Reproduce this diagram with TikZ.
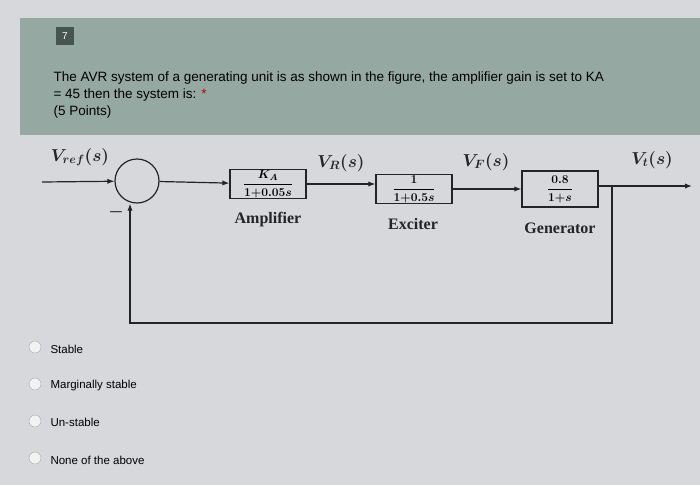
\documentclass[tikz,border=0pt]{standalone}
\usepackage{fontspec}
\setmainfont{Liberation Serif}
\newfontfamily\uisans{Liberation Sans}
\usetikzlibrary{arrows.meta}
\definecolor{bg}{RGB}{214,216,220}
\definecolor{band}{RGB}{150,168,162}
\definecolor{numbox}{RGB}{70,85,80}
\definecolor{ink}{RGB}{35,35,40}
\tikzset{
  blk/.style={draw=ink,very thick,minimum width=76pt,minimum height=26pt,inner sep=1pt,font=\boldmath\fontsize{13}{13}\selectfont},
  sig/.style={draw=ink,very thick,-{Latex[length=7pt]}},
  lbl/.style={text=ink,font=\boldmath\fontsize{17}{17}\selectfont},
  caption/.style={text=ink,font=\bfseries\fontsize{16}{16}\selectfont},
  qtext/.style={text=black,font=\uisans\fontsize{13.5}{15}\selectfont,anchor=west,align=left},
  opt/.style={text=black,font=\uisans\fontsize{11.5}{13}\selectfont,anchor=west},
  radio/.style={draw=gray!70,fill=white!90!gray,circle,minimum size=12pt,inner sep=0pt}
}
\begin{document}
\begin{tikzpicture}[x=1pt,y=-1pt]
\fill[bg] (0,0) rectangle (700,485);
\fill[band] (20,18) rectangle (700,135);
\node[fill=numbox,text=white,font=\uisans\fontsize{10}{10}\selectfont,minimum width=18pt,minimum height=18pt] (num) at (65,36) {7};
\node[qtext] (q1) at (50,78) {The AVR system of a generating unit is as shown in the figure, the amplifier gain is set to KA};
\node[qtext] (q2) at (50,95) {= 45 then the system is: {\color{red!70!black}*}};
\node[qtext] (q3) at (50,112) {(5 Points)};

% block diagram
\coordinate (in) at (42,182);
\node[draw=ink,very thick,circle,minimum size=44pt] (sum) at (137,181) {};
\node[blk] (amp) at (268,184) {$\displaystyle\frac{K_A}{1{+}0.05s}$};
\node[blk] (exc) at (414,189) {$\displaystyle\frac{1}{1{+}0.5s}$};
\node[blk,minimum height=36pt] (gen) at (560,189) {$\displaystyle\frac{0.8}{1{+}s}$};
\coordinate (out) at (692,186);
\coordinate (tap) at (612,186);
\coordinate (fb1) at (612,323);
\coordinate (fb2) at (130,323);
\draw[sig] (in) -- (sum);
\draw[sig] (sum) -- (amp);
\draw[sig] (amp.east) -- (exc.west |- amp.east);
\draw[sig] (exc.east) -- (gen.west |- exc.east);
\draw[sig] (gen.east |- out) -- (out);
\draw[sig] (tap) -- (fb1) -- (fb2) -- (sum.south -| fb2);
\node[lbl] (vref) at (80,157) {$V_{ref}(s)$};
\node[lbl] (vr) at (341,163) {$V_R(s)$};
\node[lbl] (vf) at (486,162) {$V_F(s)$};
\node[lbl] (vt) at (652,160) {$V_t(s)$};
\node[lbl] (minus) at (116,212) {$-$};
\node[caption] (ca) at (268,220) {Amplifier};
\node[caption] (ce) at (413,224) {Exciter};
\node[caption] (cg) at (560,228) {Generator};

% options
\node[radio] (r1) at (35,347) {};
\node[radio] (r2) at (35,384) {};
\node[radio] (r3) at (35,421) {};
\node[radio] (r4) at (35,458) {};
\node[opt] (o1) at (47,349) {Stable};
\node[opt] (o2) at (47,386) {Marginally stable};
\node[opt] (o3) at (47,422) {Un-stable};
\node[opt] (o4) at (47,460) {None of the above};
\end{tikzpicture}
\end{document}
